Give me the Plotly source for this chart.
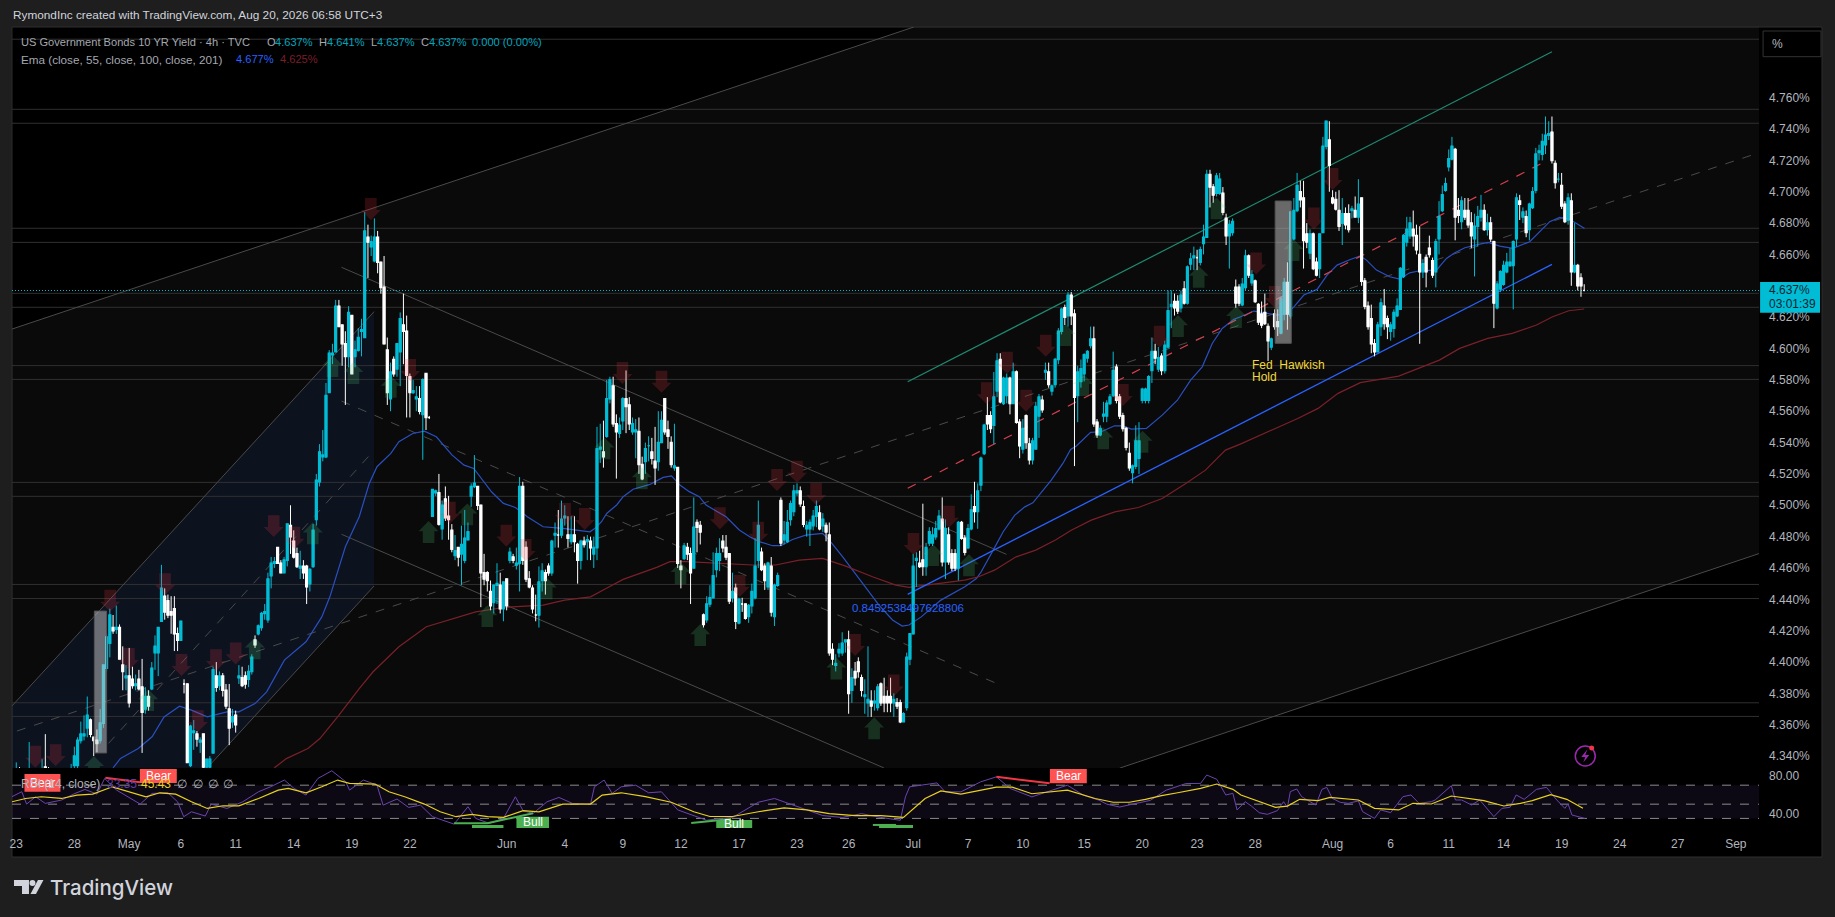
import plotly.graph_objects as go

W = 1835
H = 917

# candles, in thousandths of a percent above 4% (437 = 4.437%)
opens = [
320,330,322,315,322,330,324,328,322,333,
331,326,322,325,321,324,327,323,334,334,
350,353,358,363,352,350,350,361,396,412,
422,421,422,398,390,391,389,385,389,384,
370,378,383,406,406,426,442,439,432,434,
418,414,386,386,334,355,354,349,354,333,
333,342,391,385,391,382,370,362,366,390,
390,391,389,394,414,418,422,431,427,455,
463,473,463,457,465,487,477,469,460,461,
461,450,461,491,515,531,531,572,596,598,
627,615,603,595,621,595,599,611,607,671,
665,656,671,655,639,599,568,593,587,598,
615,611,582,572,568,568,558,584,556,493,
508,508,485,504,493,484,468,473,469,465,
478,506,512,512,500,457,457,445,438,449,
449,434,453,465,467,462,463,512,473,453,
447,430,430,452,457,461,457,481,481,481,
492,481,477,481,475,465,477,477,477,469,
473,536,534,544,568,576,552,546,554,568,
564,547,547,547,526,528,538,534,528,528,
540,568,548,540,524,524,461,466,473,469,
460,489,487,430,427,437,441,459,465,477,
473,469,441,447,425,437,437,429,436,441,
465,470,461,448,461,429,449,503,478,477,
491,496,508,509,499,485,485,487,493,495,
487,487,481,408,398,406,406,413,414,382,
394,400,390,378,374,375,374,371,386,378,
378,378,374,374,374,362,371,402,418,465,
463,465,461,476,476,480,485,491,464,481,
469,469,460,489,479,473,485,499,496,513,
533,557,557,551,573,593,565,570,581,565,
585,553,536,557,539,529,536,557,567,585,
585,573,577,593,611,626,621,634,622,570,
579,584,594,602,606,553,545,557,557,565,
570,588,569,557,549,533,521,525,530,567,
567,567,586,598,587,595,586,601,627,630,
630,626,638,629,654,658,658,655,667,671,
711,703,699,699,699,683,672,674,639,639,
628,639,659,642,643,628,622,623,614,601,
622,617,610,622,642,621,670,688,700,696,
673,661,673,655,651,674,729,733,696,695,
688,680,686,686,688,688,684,696,643,627,
619,603,598,614,627,619,611,613,621,625,
646,668,672,676,672,660,649,658,664,656,
649,670,688,701,716,721,727,688,681,688,
688,680,670,678,684,688,676,680,668,626,
638,641,649,653,653,670,694,684,684,676,
690,701,725,724,730,736,738,718,708,704,
692,682,694,649,653,645,637]

highs = [
336,333,326,327,349,332,330,331,338,354,
333,329,327,328,327,329,330,335,346,352,
362,366,378,364,352,357,370,398,418,434,
430,436,424,410,398,409,397,392,395,402,
384,382,400,417,422,462,447,443,442,442,
422,426,389,386,360,363,356,352,354,338,
340,397,400,394,393,386,386,370,369,398,
397,394,398,405,417,424,432,437,457,467,
467,473,465,467,488,500,484,473,471,465,
462,460,488,520,539,548,578,599,603,631,
631,615,611,627,621,605,613,619,687,679,
672,683,675,655,659,607,591,595,603,623,
635,621,584,580,576,576,581,584,557,510,
510,520,503,512,506,488,481,473,487,497,
489,514,532,512,500,469,458,452,449,463,
457,451,453,473,469,473,518,515,477,458,
449,443,461,463,459,463,478,489,497,503,
500,493,493,493,476,478,480,481,480,480,
550,552,554,580,582,582,558,556,569,586,
569,556,555,556,531,540,544,543,550,560,
560,568,554,544,552,524,465,476,476,473,
505,491,490,431,442,449,470,473,479,481,
481,469,457,450,441,441,437,437,450,479,
503,473,463,464,467,450,457,505,490,497,
503,513,514,512,503,490,491,497,503,500,
495,489,489,412,405,412,419,414,420,396,
400,403,392,389,410,382,382,386,387,390,
382,390,380,377,376,368,406,418,469,470,
471,501,476,486,486,490,497,505,491,486,
472,472,490,490,481,488,507,515,514,531,
552,569,560,585,597,597,582,584,582,591,
586,555,555,558,543,543,566,571,570,591,
591,577,594,613,626,628,636,636,625,589,
593,597,599,614,614,555,551,566,567,571,
598,590,571,559,550,540,526,551,553,575,
575,583,607,603,601,597,605,637,637,635,
634,637,643,653,661,665,663,665,679,714,
714,705,712,712,703,686,682,683,644,641,
645,663,660,650,644,629,630,635,616,607,
625,625,633,645,655,687,696,712,707,707,
680,676,674,658,673,735,745,745,701,700,
701,696,690,692,691,697,708,696,645,630,
628,606,617,632,638,621,617,625,632,652,
673,684,684,688,679,678,657,660,672,658,
670,694,704,709,727,735,728,696,697,696,
696,687,686,691,698,692,686,684,668,643,
650,656,661,664,669,699,698,690,688,693,
703,728,730,737,748,745,748,720,712,712,
694,699,699,680,654,648,641]

lows = [
312,318,312,310,318,320,318,318,316,328,
322,318,316,319,316,320,320,321,331,331,
348,350,352,352,340,342,348,358,394,403,
418,418,402,382,382,371,383,382,382,342,
367,369,382,395,391,426,427,428,418,407,
407,414,380,336,333,344,346,342,330,328,
328,342,381,382,378,370,347,358,355,386,
384,383,384,392,409,417,420,427,425,447,
460,463,457,457,461,469,466,460,453,453,
437,445,460,487,512,528,530,572,590,598,
614,589,564,588,584,588,598,595,607,645,
659,655,648,635,603,564,560,582,582,576,
590,556,556,571,560,558,529,548,555,493,
506,487,478,490,478,470,465,461,449,463,
478,499,511,497,435,449,445,433,431,437,
431,426,433,463,463,459,445,462,451,447,
431,426,422,445,443,455,455,473,473,479,
487,473,475,470,450,459,473,465,465,460,
465,527,524,543,565,550,517,543,548,546,
548,545,530,520,516,520,528,526,513,522,
540,545,536,524,522,460,447,465,465,437,
460,470,475,422,425,435,441,454,458,470,
465,437,438,421,424,432,427,425,431,440,
460,458,446,446,429,423,448,474,475,476,
487,493,506,499,486,480,474,484,486,484,
483,477,404,398,394,403,404,406,367,374,
385,390,378,367,365,365,369,369,372,368,
368,368,365,370,361,362,369,398,418,448,
460,455,455,474,474,478,484,461,453,462,
458,458,452,478,468,472,484,489,485,509,
532,548,546,539,569,565,564,565,558,565,
552,530,533,536,526,526,536,543,559,580,
575,570,575,590,609,615,614,615,525,553,
575,579,591,600,550,543,544,553,553,564,
569,565,555,547,535,522,514,523,520,565,
565,565,578,590,585,583,584,600,613,621,
622,623,628,628,650,650,650,653,660,671,
690,693,697,698,685,666,651,672,626,627,
627,637,645,640,629,615,613,615,592,599,
612,608,609,618,612,619,669,687,690,651,
664,657,650,646,645,674,727,700,692,688,
675,666,676,674,683,684,680,640,625,612,
597,595,598,608,612,606,605,607,620,625,
645,665,670,665,660,603,645,639,658,645,
639,660,687,700,713,720,669,680,676,682,
677,664,646,665,681,675,672,668,613,625,
636,640,648,652,625,665,682,680,671,669,
689,699,720,720,724,733,718,702,706,689,
680,679,640,648,637,633,637]

closes = [
330,322,315,324,330,324,328,322,331,332,
326,322,325,321,324,327,323,330,340,350,
354,354,366,354,350,348,361,398,416,430,
420,422,402,394,391,374,385,386,383,368,
378,372,396,410,422,447,432,430,430,418,
414,426,386,336,359,356,351,350,333,338,
338,395,384,391,382,372,358,365,360,391,
385,386,394,403,411,423,431,432,453,463,
464,463,457,465,488,480,467,461,461,457,
448,459,484,516,534,532,570,597,597,627,
614,603,595,623,584,599,607,612,675,668,
668,671,655,639,603,572,585,584,603,619,
611,583,572,573,569,560,580,556,556,510,
509,488,500,492,491,472,471,467,475,479,
483,512,514,500,457,453,452,436,449,450,
434,451,436,470,465,463,512,465,453,448,
434,430,451,458,452,457,477,482,481,491,
493,479,481,477,465,477,475,478,473,473,
536,537,531,568,580,552,547,551,568,563,
552,552,548,526,517,536,538,530,524,540,
554,547,544,526,525,463,459,474,469,457,
486,486,483,424,437,441,455,469,469,473,
467,439,445,426,440,437,428,436,445,461,
487,459,452,463,432,449,455,476,481,489,
501,509,509,501,488,487,489,493,499,485,
491,483,406,402,399,408,412,414,380,390,
390,394,382,379,376,372,375,384,374,374,
374,374,376,372,362,367,403,418,461,466,
461,461,473,483,481,485,493,464,485,464,
460,460,489,479,470,485,497,496,509,530,
551,552,549,569,592,566,581,581,565,585,
553,538,549,540,529,541,563,569,561,586,
577,576,593,611,625,620,634,621,569,585,
587,596,598,606,552,545,549,558,565,569,
586,567,557,549,537,524,525,541,541,574,
574,582,598,594,594,586,602,624,628,626,
624,634,629,652,657,659,658,663,671,711,
703,698,710,708,687,672,679,681,629,629,
641,659,647,647,630,617,615,616,605,606,
614,614,632,642,622,687,688,704,695,669,
668,673,651,647,673,729,745,717,693,689,
678,686,679,676,689,684,692,643,627,614,
603,598,615,629,616,614,615,623,627,651,
672,676,680,672,663,649,654,649,660,647,
668,684,698,705,721,729,684,685,694,684,
679,672,678,684,688,676,680,670,629,641,
649,653,655,655,668,696,692,687,674,692,
700,724,726,732,736,737,720,706,708,691,
681,696,649,653,640,640,637]

fast_bars = [30,32.3,37.8,42.1,45.8,50.6,54.3,59.2,65.3,69,74,77.6,83.1,89.8,94.7,97.2,102,106.3,109.4,111.8,116.1,118.6,122.9,126.5,130.2,135.1,138.8,141.8,147.3,151,154.7,158.4,163.3,169.4,177.8,179.4,181.4,183,186.1,188.1,191.2,196.4,200.5,203.1,205.7,208.6,211.7,213.8,220,224.1,227.7,230.3,234.4,237,240.6,244.7,249.9,252,256.1,259.2,263.3,267.4,271.6,274.6,276.7,280.5,286.6,294,297.6,299.1,302.8,305.9,309.5,312.6,315.1,320.8,324.4,326.8,328.6,333,336.3,340.4,343,345.6,350.3,355.2,359.9,364,367.6,370.7,373.8,377.4,379.5,383.6,387.7,390.8,393.9,396,399.1,403.2,406.3,409.4,413.5,416.6,418.5,421.6,425.7,428.8,431.9,435,440.2,443.3,445.9,449,453.6,456.2,459.8,463.9,469.1,472.2,475.3,478.4,481.5,484.5,486.1]
fast_vals = [332.5,338.5,344.8,352.3,365,371.8,369.3,365,368.2,368.2,373.5,381,401.2,412.9,428.8,441.6,473.5,492.7,513.9,524.6,533.1,540.5,545.8,547.3,543.7,532,525.6,523.5,508.6,501.2,498.6,492.7,486.3,485.2,483.1,485.3,489.5,494.8,500.2,505.5,510.2,513.3,517.8,518.7,512.9,508.7,505.5,500.1,492.7,484.2,479.5,476.8,474.2,474.2,478.2,481,482.1,477.8,467.2,458.7,448.1,436.3,426.8,422.9,423.6,428.8,439.5,448,453.3,457.6,471.4,483.1,493.7,499,501.6,516,526.7,535.6,537.8,546.5,546.9,550.7,550.7,548.6,549,557.5,567,579.8,588.3,603.2,612.8,618.6,620.3,623.9,622.4,621.3,622.4,626.6,634.1,637.7,646.8,653.2,656.8,659,656.4,650,645.8,644.3,648.3,649.6,650,657.5,661.1,664.3,666.6,667.7,665.3,663.9,668.1,674.5,680.9,683.6,682.4,678.7,676.6]
slow_bars = [80,83.7,90.4,94.1,99.6,106.3,110.6,114.3,118.6,127.1,137.6,142.4,151,163.3,170,178,182.8,188.1,198.5,202.6,207.7,214.8,228.2,235.4,242.7,249.9,257.1,265.4,272.6,276.7,285.4,294,298.3,303.2,309.9,316,322.1,327,333.2,340.5,347.8,355.2,362.5,368.6,374.8,379.4,397.2,403.5,409.7,416.6,428.5,441.1,447.4,456.1,463.7,471.2,476.2,481.2,486]
slow_vals = [332.5,338.4,344.8,351.2,365,383.1,393.8,401.2,409.7,422.5,429.1,432,434.8,436.3,439.5,441.6,446.9,452.7,460.4,464,464,463.3,461.9,461.9,465,466.1,461.2,454.4,449.1,447.6,450.1,452.2,454.4,458.6,467.1,471.4,477.8,484.1,490.5,495.8,498.6,504.3,513.9,522.4,535.2,539,555.4,561.8,571.4,578.2,582.4,592.6,600.1,606.5,609.7,615,620.3,624.1,625.2]

rsi_bars = [-1.4,1.7,3.2,6,9,11.5,14,18.2,21.3,25,27.4,31.1,34.7,38.4,42.1,47,50,51.9,54.3,58.6,60.4,65.3,70.2,75.1,78.8,83.1,86.1,89.8,93.5,97.8,102.1,103.3,107.6,111.8,113.7,118,121.6,125.3,129,135.7,140,142.4,146.7,151,154.7,157.1,160.2,164.5,168.2,172.4,178,179.2,182.2,184.7,187.5,192,196,200,205,210,214,218,222,230,235,240,245,250,256,262,268,274,275.6,276.9,285.4,287.9,292.8,298.9,303.8,308.1,314.8,320.9,325.8,330.7,335.6,338,342,346,349,351.5,356.4,362.5,367.1,369,372.1,374.9,377.1,378.4,380.9,382.8,385.3,387.8,390.9,392.8,394,394.9,396.9,398.4,402.8,404.7,406.2,407.9,410.4,412.9,416,417.3,421,422.9,426,429.8,432.3,434.8,438.6,439.8,444.8,446.1,448,451.1,453.6,458,460.5,463,464.9,467.4,471.2,474.3,477.5,480,481,482.2,486.2]
rsi_vals = [57.8,63.1,50.1,57.8,50.8,52.5,54.3,61.3,65.5,60.6,77.1,64.8,57.8,50.1,61.3,62,52.5,36.8,42,37.5,50.1,45.5,52.5,63.1,68.3,75.4,66.6,59.6,77.1,85.2,73.6,64.8,75.4,70.1,49,55.4,46.6,49,36.8,29,47.3,35,29.7,35,57.8,43.1,40.3,52.5,57.1,50.8,50.1,68.3,75.4,61.3,68.3,70,62,63,44,38,33,35,36,52,56,50,44,38,36,40,36,33,57.7,68.3,72.4,63,63,73.5,78.8,66.5,57.7,64.7,70,59.5,54.2,50,47,50,52,54,64.7,71.7,71.9,80.7,76.2,59.7,61.4,43.9,52.6,48.1,41,39.3,43.2,52.6,46.7,63.2,66,57.9,49.1,65.6,67.7,56.2,51.9,50.9,53.4,42.1,35,43.9,41.1,57.9,59.7,50.9,52.6,54.4,69.5,54.4,54.4,49.1,54.4,36.9,45.6,46.7,59.7,55.1,65.6,67.7,54.4,45.6,50.2,38.6,35]
rsi_ma_bars = [-1.4,2.9,7.8,14,18.8,23.7,29.8,34.7,40.2,44.5,49.4,54.3,59.2,64.1,69,75.1,81.2,84.3,89.8,94.7,99.6,103.3,111.2,115.5,120.4,126.5,131.4,136.3,141.2,146.1,151,157.1,162,169.4,178,181.6,187.5,195,203,210,215,222,230,238,245,252,260,268,275,281.7,286.6,292.8,303.8,308.7,314.8,325.8,334.4,340,345,350,355,360,367.1,372.1,377.1,379.6,384.7,390.3,394,397.8,403.5,407.2,416,421,428.5,432.9,438.6,444.8,454.9,461.1,466.2,469.9,475.6,480.6,485.6]
rsi_ma_vals = [52.5,56,57.8,56,59.6,60.6,68.3,63.1,57.8,62,60.6,52.5,45.5,48.3,48.3,56,64.8,66.6,62,68.3,75.4,71.9,71.2,63.1,57.8,50.1,42,36.8,39.2,36.8,36.1,43.1,42,50.1,50.1,59.6,62,58,52,42,37,37,42,46,44,40,38,38,36,56,64,60.5,68,68,61,64.7,56,52,52,55,59,62,66.7,71.2,65.6,59.7,53.3,46.7,48,55.1,53.7,57.2,54.4,45.6,43.9,50.9,50.2,58.6,53.7,48.1,50.9,53.7,60,55.1,45.6]

# drawn tools, bar index and price in the same units as the candles
level_lines = [797.3,752.6,743.7,676.7,667.7,635.2,626.3,589.1,580.3,514.6,505.7,449.5,440.5,374,365.3]
up_channel = {"top": ([-1.33,278.2],[612.4,805.1]), "bottom": ([342,540.2],[332.3,469.2]), "mid": ([0.2,540.2],[356,724.9])}
down_channel = {"top": ([100.8,306.9],[651.8,468.7]), "bottom": ([100.8,268.9],[481.5,332.5]), "mid": ([100.8,305.7],[566.5,384.7])}
box_bars = [-1.33,110.9,110.9,59.2,-1.33]
box_vals = [372,623.5,448.5,332.5,332.5]
box_mid = ([28.6,110.7],[348.1,534.6])
green_line = ([276.3,476],[578.8,789.3])
red_line = ([276.3,474.9],[510.8,720.3])
blue_line = ([276.3,476],[443.2,653.7])

down_bars = [5.9,12.2,29.1,34.9,46.1,51.2,56.3,61.9,68,79.8,86.2,109.9,122.1,134.4,151.9,157.9,170.1,176.2,187.9,200,218.1,224.2,230,235.8,242,247.9,260,272,278.1,289.1,300.8,307.1,313,319.1,343,354.4,384.3,390.1,402.2,408]
down_vals = [339.6,340.6,439.1,401.9,449.7,398.1,362.3,401.2,405.5,486.7,479.3,689,586.3,495.2,480.6,471.5,494.4,491.2,584.4,578.8,491.7,448.5,482.5,516.1,521.4,507.2,410.9,385,475.3,492.7,571.4,590.9,566.7,601.8,570.3,607.5,654.2,632.9,682.9,708.1]
up_bars = [24.1,40.9,73.9,91.9,98,104.5,116.1,127.8,139.8,146,164.4,182.3,193.9,205.9,212,254.2,265.9,284.2,295.3,325.2,330.7,336.9,349.1,360.1,366.5,372,378.1,395.9]
up_vals = [333,375.7,408.7,482.1,588.8,584.4,575.6,482.9,494.2,429.3,447,536.3,517.2,456.8,417.2,395.9,357.7,468.2,461.8,608.6,576.7,542.7,540.5,614.3,645.8,689.4,620.1,662.8]

highlight_bars = [(24.2,28),(390.2,395.2)]
highlight_vals = [(342,432.5),(603.3,694.1)]

tick_bars = [0,18,35,51,68,86,104,122,152,170,188,206,224,242,258,278,295,312,331,349,366,384,408,426,444,461,479,497,515,533]
tick_labels = ["23","28","May","6","11","14","19","22","Jun","4","9","12","17","23","26","Jul","7","10","15","20","23","28","Aug","6","11","14","19","24","27","Sep"]
price_ticks = [4.34,4.36,4.38,4.40,4.42,4.44,4.46,4.48,4.50,4.52,4.54,4.56,4.58,4.60,4.62,4.66,4.68,4.70,4.72,4.74,4.76]

last_price = 637
CYAN = "#00bcd4"
FONT = "Liberation Sans"
XR = [-1.33, 540.2]

assert len(opens) == len(highs) == len(lows) == len(closes)


def pct(vals):
    return [4 + v / 1000 for v in vals]


def px(x):
    return x / W


def py(y):
    return 1 - y / H


fig = go.Figure()


def line(bars, vals, color, width=1, dash="solid", axis="y"):
    ys = pct(vals) if axis == "y" else vals
    fig.add_trace(go.Scatter(x=bars, y=ys, mode="lines", yaxis=axis, hoverinfo="skip", showlegend=False,
                             line=dict(color=color, width=width, dash=dash)))


def area(bars, vals, color, axis="y"):
    ys = pct(vals) if axis == "y" else vals
    fig.add_trace(go.Scatter(x=bars, y=ys, mode="lines", fill="toself", fillcolor=color, yaxis=axis,
                             line=dict(width=0), hoverinfo="skip", showlegend=False))


def note(x, y, text, size=12, color="#b2b5be", anchor="left", **kw):
    fig.add_annotation(xref="paper", yref="paper", x=px(x), y=py(y), text=text, showarrow=False, xanchor=anchor,
                       yanchor="middle", align="left", borderpad=0, font=dict(family=FONT, size=size, color=color), **kw)


def box(x0, y0, x1, y1, color, line_color=None, layer="above", kind="rect"):
    fig.add_shape(type=kind, xref="paper", yref="paper", x0=px(x0), x1=px(x1), y0=py(y0), y1=py(y1), fillcolor=color,
                  line=dict(color=line_color or color, width=1 if line_color else 0), layer=layer)


# lighter chart area under the long channel top
area([-1.33, 278.2, 540.2, 540.2, 342, -1.33], [612.4, 805.1, 805.1, 469.2, 332.3, 332.3], "rgba(255,255,255,0.04)")
area(box_bars, box_vals, "rgba(40,80,180,0.13)")

for lv in level_lines:
    line(XR, [lv, lv], "#303030")

for name, (b, v) in up_channel.items():
    line(b, v, "#4a4a4a", 1, "dash" if name == "mid" else "solid")
for name, (b, v) in down_channel.items():
    line(b, v, "#4a4a4a", 1, "dash" if name == "mid" else "solid")
line(box_bars[:2], box_vals[:2], "#4a4a4a")
line(box_bars[2:4], box_vals[2:4], "#4a4a4a")
line(box_mid[0], box_mid[1], "#4a4a4a", 1, "dash")

line(fast_bars, fast_vals, "#2a50c0", 1.2)
line(slow_bars, slow_vals, "#7a2029", 1.2)
line(green_line[0], green_line[1], "#1f8a70", 1.2)
line(red_line[0], red_line[1], "#d64050", 1.2, "dash")
line(blue_line[0], blue_line[1], "#2962ff", 1.3)
line(XR, [last_price, last_price], CYAN, 1, "1px,2px")

# candles sit on an overlay axis so the lines stay behind them
fig.add_trace(go.Candlestick(x=list(range(len(closes))), open=pct(opens), high=pct(highs), low=pct(lows), close=pct(closes),
                             yaxis="y3", showlegend=False, hoverinfo="skip", whiskerwidth=0,
                             increasing=dict(line=dict(color=CYAN, width=1), fillcolor=CYAN),
                             decreasing=dict(line=dict(color="#ffffff", width=1), fillcolor="#ffffff")))
# second pass with no wicks, only to fatten the bodies to the 3 px of the original
body_hi = [max(o, c) for o, c in zip(opens, closes)]
body_lo = [min(o, c) for o, c in zip(opens, closes)]
fig.add_trace(go.Candlestick(x=list(range(len(closes))), open=pct(opens), high=pct(body_hi), low=pct(body_lo), close=pct(closes),
                             yaxis="y3", showlegend=False, hoverinfo="skip", whiskerwidth=0,
                             increasing=dict(line=dict(color=CYAN, width=1.6), fillcolor=CYAN),
                             decreasing=dict(line=dict(color="#ffffff", width=1.6), fillcolor="#ffffff")))


# block arrows, 20 px wide and 22 px tall in chart units
def arrows(bars, vals, sign):
    xs, ys = [], []
    for b, v in zip(bars, vals):
        dx = [-1.8, 1.8, 1.8, 3.1, 0, -3.1, -1.8, -1.8]
        dy = [7, 7, -0.6, -0.6, -7, -0.6, -0.6, 7]
        xs += [b + d for d in dx] + [None]
        ys += [4 + (v + sign * d) / 1000 for d in dy] + [None]
    return xs, ys


ax, ay = arrows(down_bars, down_vals, 1)
fig.add_trace(go.Scatter(x=ax, y=ay, yaxis="y4", mode="lines", fill="toself", fillcolor="rgba(242,54,69,0.2)",
                         line=dict(width=0), hoverinfo="skip", showlegend=False))
ax, ay = arrows(up_bars, up_vals, -1)
fig.add_trace(go.Scatter(x=ax, y=ay, yaxis="y4", mode="lines", fill="toself", fillcolor="rgba(76,200,120,0.2)",
                         line=dict(width=0), hoverinfo="skip", showlegend=False))

for (b0, b1), (v0, v1) in zip(highlight_bars, highlight_vals):
    fig.add_shape(type="rect", xref="x", yref="y", x0=b0, x1=b1, y0=4 + v0 / 1000, y1=4 + v1 / 1000,
                  fillcolor="rgba(200,200,200,0.5)", line=dict(color="#555555", width=1), layer="above")

# RSI pane
area([XR[0], XR[1], XR[1], XR[0]], [35, 35, 70, 70], "rgba(126,87,194,0.1)", "y2")
for lv in [70, 50, 35]:
    line(XR, [lv, lv], "#8a8a8a", 1, "dash", "y2")
line(rsi_bars, rsi_vals, "#6a45b0", 1, "solid", "y2")
line(rsi_ma_bars, rsi_ma_vals, "#e8d21d", 1.2, "solid", "y2")
line([27.6, 38.4], [77.9, 73], "#f23645", 2, "solid", "y2")
line([303.8, 320.3], [78.9, 72], "#f23645", 2, "solid", "y2")
line([135.7, 146, 160.2], [29.9, 29.9, 40.4], "#4caf50", 2, "solid", "y2")
line([209.2, 221.6], [30.2, 34.4], "#4caf50", 2, "solid", "y2")
line([265.5, 272.7], [28.1, 28.1], "#4caf50", 2, "solid", "y2")

# frame, price scale background
box(10, 27, 1822, 857, "#000000", "#2e2e2e", "below")

for x0, y0, x1, y1, col, txt in [(22.5, 774, 58.5, 791.7, "#ff5252", "Bear"), (138, 769, 175, 783, "#ff5252", "Bear"),
                                 (1049, 769, 1086, 783.3, "#ff5252", "Bear"), (470.5, 825, 502, 828, "#4caf50", ""),
                                 (515, 816.7, 547.6, 828, "#4caf50", "Bull"), (715, 820, 751, 828, "#4caf50", "Bull"),
                                 (878, 825, 912, 828, "#4caf50", "")]:
    box(x0, y0, x1, y1, col)
    if txt:
        note((x0 + x1) / 2, (y0 + y1) / 2, txt, 12, "#ffffff", "center")

note(10, 15, "RymondInc created with TradingView.com, Aug 20, 2026 06:58 UTC+3", 11.8, "#d1d4dc")

# legend pieces placed one by one, the original spacing is wider than plain spaces
note(18, 41.7, "US Government Bonds 10 YR Yield · 4h · TVC", 11.1, "#a5a8b0")
for x, txt, col in [(264, "O", "#a5a8b0"), (272, "4.637%", "#00a5bd"), (316, "H", "#a5a8b0"), (324, "4.641%", "#00a5bd"),
                    (368, "L", "#a5a8b0"), (374, "4.637%", "#00a5bd"), (418, "C", "#a5a8b0"), (426, "4.637%", "#00a5bd"),
                    (470, "0.000 (0.00%)", "#00a5bd")]:
    note(x, 41.7, txt, 11.1, col)
note(18, 59, "Ema (close, 55, close, 100, close, 201)", 11.7, "#a5a8b0")
note(233, 59, "4.677%", 11.1, "#2962ff")
note(277, 59, "4.625%", 11.1, "#7a1f2a")

note(18, 784, "RSI (14, close)", 12, "#b2b5be")
note(104, 784, "33.35", 12, "#5e3fa0")
note(138, 784, "45.43", 12, "#e8d21d")
for x in [174, 190, 205, 220]:
    note(x, 784, "∅", 12, "#b2b5be")

note(850, 608, "0.8452538497628806", 11.5, "#2962ff")
note(1250, 365, "Fed\u00a0\u00a0Hawkish", 12, "#f2d83b")
note(1250, 377, "Hold", 12, "#f2d83b")

# last price tag covers the 4.64 tick of the scale
box(1760, 282, 1820, 312.7, CYAN)
note(1768, 290.5, "4.637%", 12, "#0d2530")
note(1768, 304, "03:01:39", 12, "#0d2530")

fig.add_shape(type="rect", xref="paper", yref="paper", x0=px(1763), x1=px(1821), y0=py(31), y1=py(56.7),
              line=dict(color="#333333", width=1), layer="above")
note(1771, 44, "%", 12, "#b2b5be")

# flash badge
fig.add_shape(type="circle", xref="paper", yref="paper", x0=px(1575), x1=px(1595), y0=py(746), y1=py(766),
              line=dict(color="#9c27b0", width=1.5), layer="above")
bolt = [(1587, 749.5), (1581, 757), (1585, 757), (1583, 762.5), (1589, 755), (1585, 755)]
fig.add_shape(type="path", xref="paper", yref="paper", layer="above", fillcolor="#9c27b0", line=dict(width=0),
              path="M " + " L ".join("%f,%f" % (px(a), py(b)) for a, b in bolt) + " Z")
box(1589, 745.5, 1594, 750.5, "#f23645", kind="circle")

# logo
LOGO = "#d1d4dc"
box(12, 880, 27, 886, LOGO)
box(20, 886, 27, 894, LOGO)
box(27.5, 880, 33.5, 886, LOGO, kind="circle")
fig.add_shape(type="path", xref="paper", yref="paper", layer="above", fillcolor=LOGO, line=dict(width=0),
              path="M %f,%f L %f,%f L %f,%f L %f,%f Z" % (px(36), py(880), px(41.5), py(880), px(34), py(894), px(28.5), py(894)))
fig.add_annotation(xref="paper", yref="paper", x=px(47.5), y=py(887), text="TradingView", showarrow=False, xanchor="left",
                   yanchor="middle", borderpad=0, font=dict(family="Inter", size=20.5, color=LOGO, weight=500))

main_dom = [py(768), py(27)]
rsi_dom = [py(828), py(768)]
main_range = [4.3324, 4.8051]

fig.update_layout(
    width=W, height=H, autosize=False, margin=dict(l=0, r=0, t=0, b=0),
    paper_bgcolor="#1e1e1e", plot_bgcolor="#000000", showlegend=False, hovermode=False,
    font=dict(family=FONT, size=12, color="#b2b5be"),
    xaxis=dict(domain=[px(10), px(1759)], range=XR, anchor="y2", tickvals=tick_bars, ticktext=tick_labels, showgrid=False,
               zeroline=False, showline=False, ticks="", rangeslider=dict(visible=False), ticklabelstandoff=7,
               tickfont=dict(family=FONT, size=12, color="#b2b5be")),
    yaxis=dict(domain=main_dom, range=main_range, side="right", anchor="x", tickvals=price_ticks,
               ticktext=["%.3f%%" % p for p in price_ticks], showgrid=False, zeroline=False, showline=False, ticks="",
               ticklabelstandoff=9, tickfont=dict(family=FONT, size=12, color="#b2b5be")),
    yaxis2=dict(domain=rsi_dom, range=[24.9, 88.1], side="right", anchor="x", tickvals=[80, 40], ticktext=["80.00", "40.00"],
                showgrid=False, zeroline=False, showline=False, ticks="", ticklabelstandoff=9,
                tickfont=dict(family=FONT, size=12, color="#b2b5be")),
    yaxis3=dict(domain=main_dom, range=main_range, overlaying="y", side="right", visible=False),
    yaxis4=dict(domain=main_dom, range=main_range, overlaying="y", side="right", visible=False),
)

fig.write_html("out.html", post_script="document.body.style.margin='0';document.body.style.background='#1e1e1e';document.body.style.overflow='hidden';",
               config=dict(displayModeBar=False))
